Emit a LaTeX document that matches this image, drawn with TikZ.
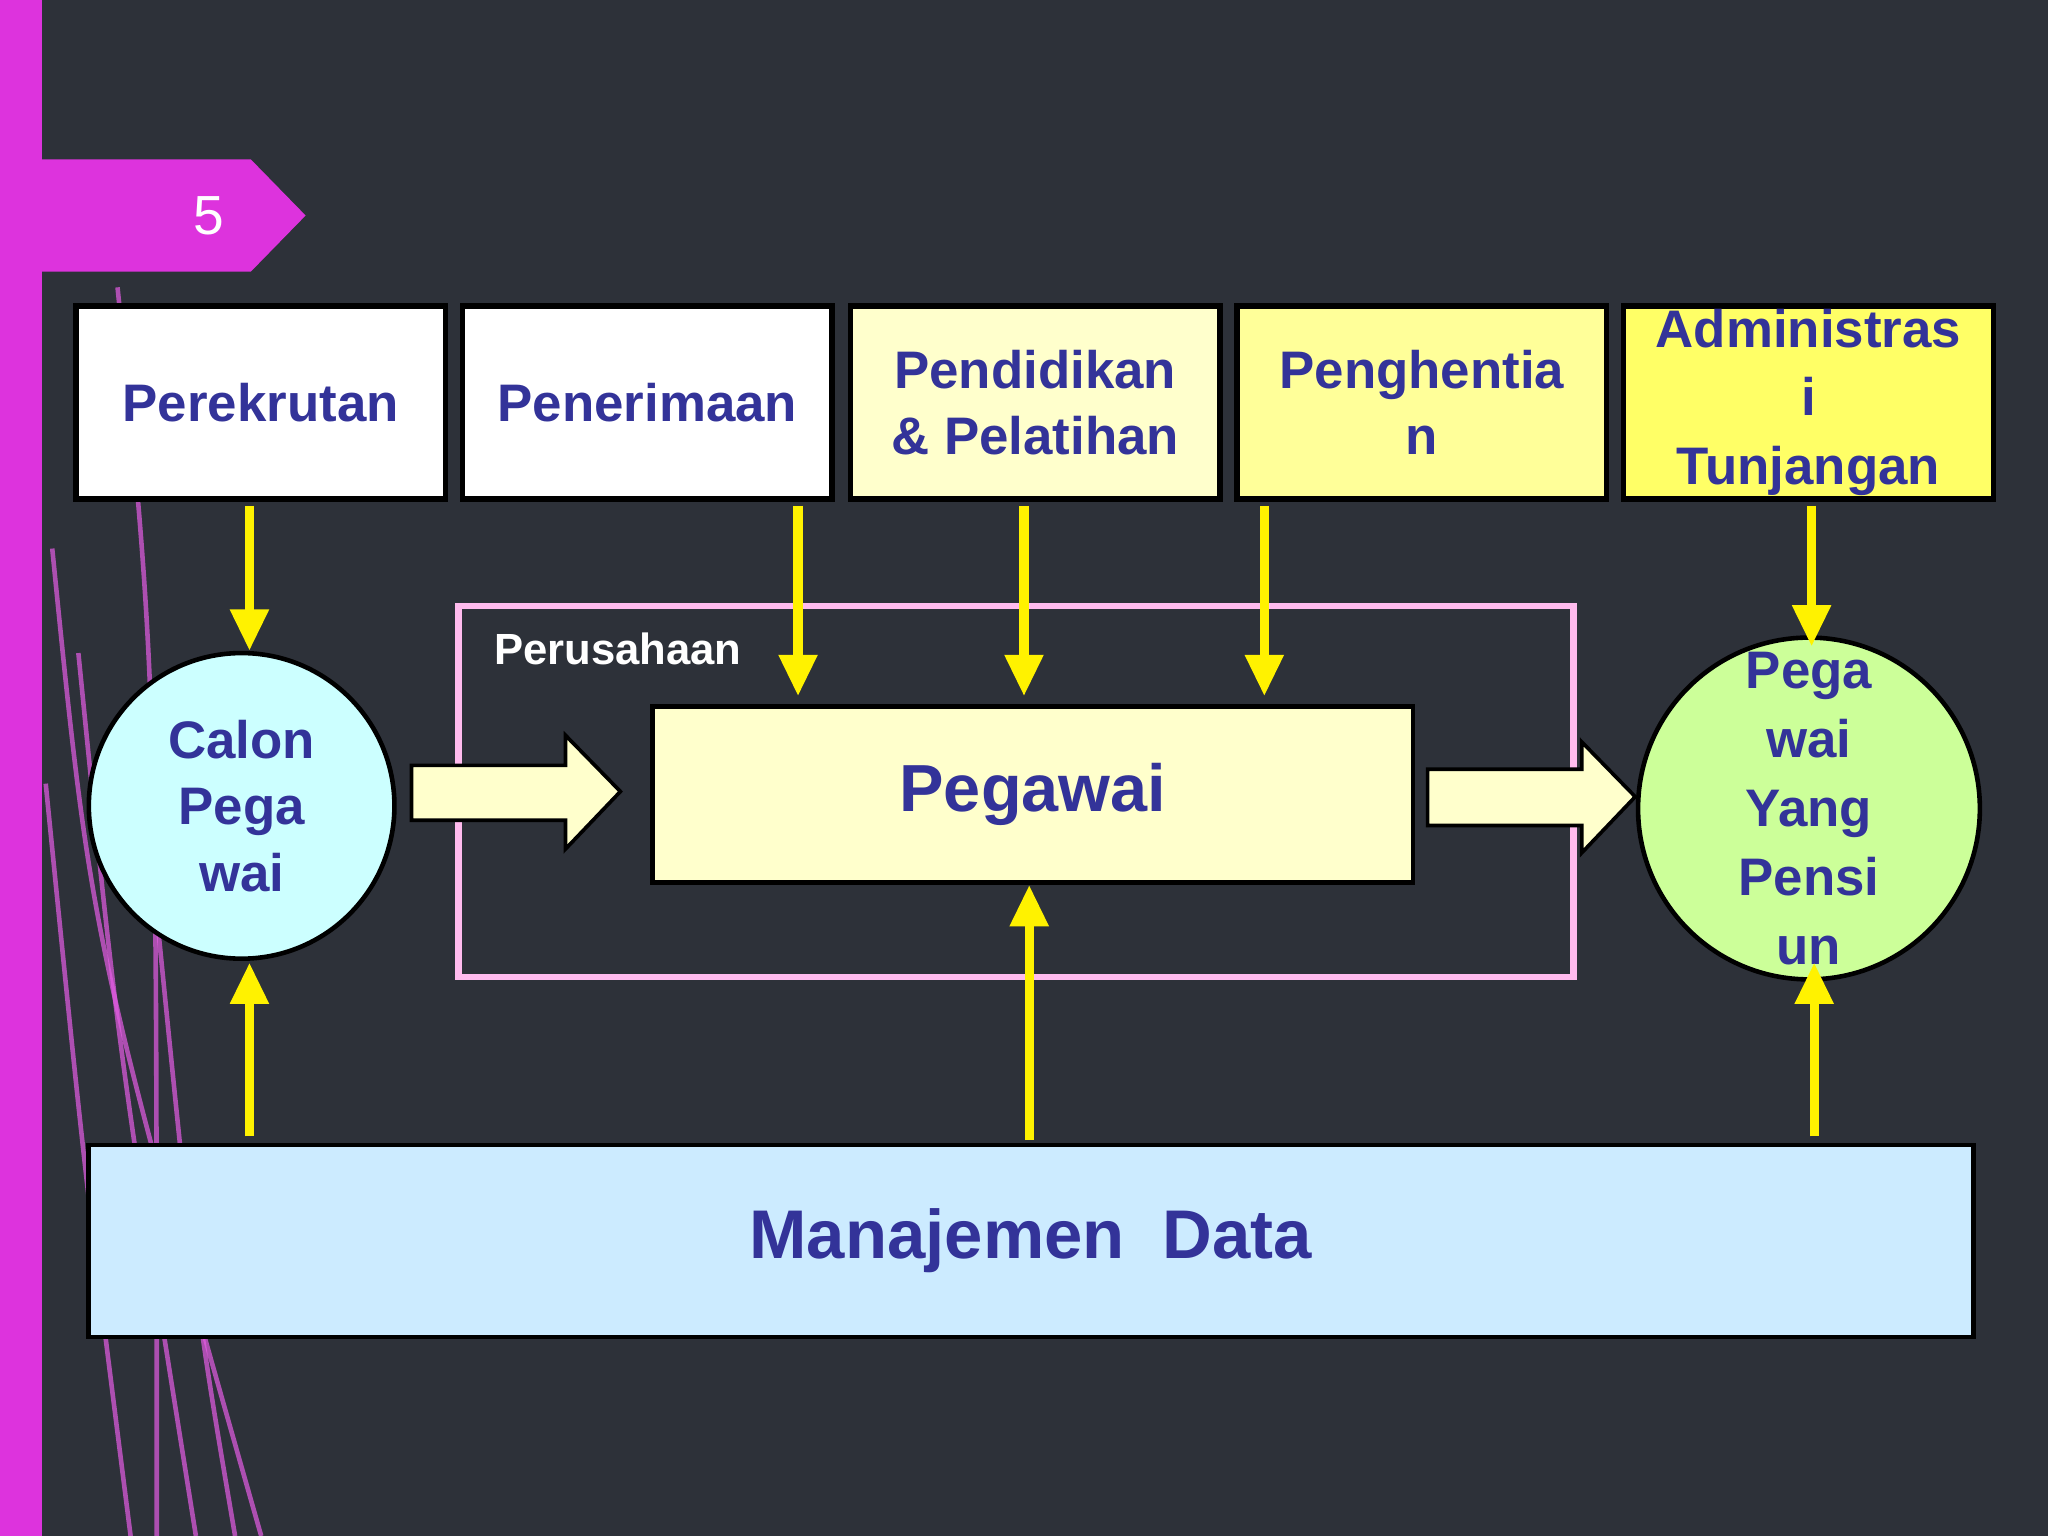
\documentclass[tikz,border=0pt]{standalone}
\usepackage{fontspec}
\setmainfont{Liberation Sans}
\usetikzlibrary{arrows.meta}
\definecolor{bg}{HTML}{2D3139}
\definecolor{mag}{HTML}{DD33DD}
\definecolor{tx}{HTML}{333399}
\definecolor{c1}{HTML}{FFFFCC}
\definecolor{c2}{HTML}{FFFF99}
\definecolor{c3}{HTML}{FFFF66}
\definecolor{cb}{HTML}{CCFFFF}
\definecolor{cg}{HTML}{CCFF99}
\definecolor{cm}{HTML}{CCEBFF}
\definecolor{pk}{HTML}{FFBBEE}
\begin{document}
\begin{tikzpicture}[x=0.01cm,y=-0.01cm,
  box/.style={draw=black,line width=1.2pt,minimum width=283*0.01cm,minimum height=148*0.01cm,anchor=north west,inner sep=0pt,align=center,text=tx,font=\fontsize{11.5}{14.5}\selectfont\bfseries},
  circ/.style={circle,draw=black,line width=1pt,minimum size=234*0.01cm,inner sep=0pt,align=center,text=tx,font=\fontsize{11.5}{14.5}\selectfont\bfseries},
  ya/.style={draw=yellow,line width=2pt,-{Triangle[length=9pt,width=8pt]}},
  big/.style={fill=c1,draw=black,line width=0.8pt}]
\useasboundingbox (0,0) rectangle (1568,1176);
\fill[bg] (0,0) rectangle (1568,1176);
\fill[mag] (0,0) rectangle (32,1176);
\foreach \a/\b/\c in {40/420/200,60/500/150,90/220/120,120/700/180,35/600/100}
  \draw[mag!80,line width=1pt,opacity=0.7] (\a,\b) .. controls (\a+30,\b+300) .. (\c,1176);
\fill[mag] (32,122) -- (192,122) -- (234,165) -- (192,208) -- (32,208) -- cycle;
\node[text=white,font=\fontsize{12}{14}\selectfont] (num) at (160,165) {5};
\node[box,fill=white] (b1) at (56,232) {Perekrutan};
\node[box,fill=white] (b2) at (352,232) {Penerimaan};
\node[box,fill=c1] (b3) at (649,232) {Pendidikan\\\& Pelatihan};
\node[box,fill=c2] (b4) at (945,232) {Penghentia\\n};
\node[box,fill=c3,font=\fontsize{11.5}{15}\selectfont\bfseries] (b5) at (1241,232) {Administras\\i\\Tunjangan};
\draw[pk,line width=1.5pt] (351,464) rectangle (1205,748);
\node[text=white,anchor=west,font=\fontsize{9.5}{12}\selectfont\bfseries] (per) at (366,497) {Perusahaan};
\node[draw=black,line width=1pt,fill=c1,minimum width=582*0.01cm,minimum height=135*0.01cm,anchor=north west,text=tx,font=\fontsize{14.5}{17}\selectfont\bfseries] (peg) at (498,539) {Pegawai};
\node[circ,fill=cb] (cal) at (185,617) {Calon\\Pega\\wai};
\node[circ,fill=cg,font=\fontsize{11.5}{15}\selectfont\bfseries] (pen) at (1385,619) {Pega\\wai\\Yang\\Pensi\\un};
\node[draw=black,line width=1pt,fill=cm,minimum width=1443*0.01cm,minimum height=147*0.01cm,anchor=north west,text=tx,font=\fontsize{15}{18}\selectfont\bfseries] (md) at (66,875) {Manajemen\ \ Data};
\draw[big] (315,586) -- (433,586) -- (433,563) -- (475,606) -- (433,650) -- (433,628) -- (315,628) -- cycle;
\draw[big] (1093,589) -- (1211,589) -- (1211,568) -- (1252,610) -- (1211,653) -- (1211,632) -- (1093,632) -- cycle;
\coordinate (t2) at (611,533); \coordinate (t3) at (784,533); \coordinate (t4) at (968,533);
\draw[ya] (b1.south -| 191,0) ++(0,3) -- (cal.north -| 191,0);
\draw[ya] (b2.south -| t2) ++(0,3) -- (t2);
\draw[ya] (b3.south -| t3) ++(0,3) -- (t3);
\draw[ya] (b4.south -| t4) ++(0,3) -- (t4);
\draw[ya] (b5.south -| 1387,0) ++(0,3) -- (1387,495);
\draw[ya] (md.north -| 191,0) ++(0,-5) -- (191,737);
\draw[ya] (md.north -| 788,0) ++(0,-2) -- (peg.south -| 788,0);
\draw[ya] (md.north -| 1389,0) ++(0,-5) -- (1389,737);
\end{tikzpicture}
\end{document}
